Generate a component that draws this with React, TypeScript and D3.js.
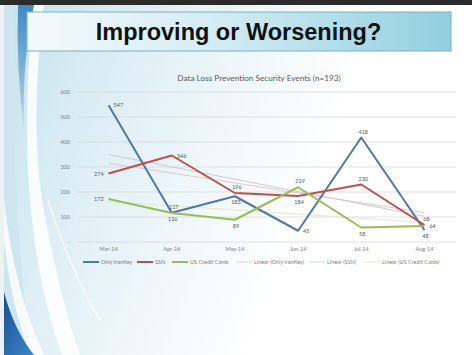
import React from "react";
import * as d3 from "d3";

const months = ["Mar-14", "Apr-14", "May-14", "Jun-14", "Jul-14", "Aug-14"];
const onlyIronKey = [547, 117, 183, 45, 418, 48];
const ssn = [274, 346, 196, 184, 230, 68];
const usCreditCards = [172, 116, 89, 219, 58, 64];
const yTicks = [0, 100, 200, 300, 400, 500, 600];
const seriesNames = ["Only IronKey", "SSN", "US Credit Cards"];
const trendNames = ["Linear (Only IronKey)", "Linear (SSN)", "Linear (US Credit Cards)"];

type Place = "right" | "left" | "above" | "below";
const placeIronKey: Place[] = ["right", "above", "below", "right", "above", "below"];
const placeSSN: Place[] = ["left", "right", "above", "below", "above", "above"];
const placeUS: Place[] = ["left", "below", "below", "above", "below", "right"];

const W = 474, H = 355;
const FONT = "Lato, 'Open Sans', sans-serif";

function regress(vals: number[]) {
  const n = vals.length;
  const xs = vals.map((_, i) => i + 1);
  const mx = d3.mean(xs)!;
  const my = d3.mean(vals)!;
  let sxy = 0, sxx = 0;
  xs.forEach((x, i) => { sxy += (x - mx) * (vals[i] - my); sxx += (x - mx) ** 2; });
  const b = sxy / sxx;
  const a = my - b * mx;
  return { a, b, n };
}

export default function App() {
  const x = d3.scaleBand<string>().domain(months).range([77, 456]);
  const y = d3.scaleLinear().domain([0, 600]).range([242, 92]);
  const cx = (i: number) => x(months[i])! + x.bandwidth() / 2;

  const series = [
    { name: seriesNames[0], vals: onlyIronKey, color: "#4f77aa", place: placeIronKey, trend: "#c3cfdc", tname: trendNames[0] },
    { name: seriesNames[1], vals: ssn, color: "#bf4f4c", place: placeSSN, trend: "#ecc5c4", tname: trendNames[1] },
    { name: seriesNames[2], vals: usCreditCards, color: "#9bbb59", place: placeUS, trend: "#e2ead0", tname: trendNames[2] },
  ];

  const line = d3.line<number>().x((_, i) => cx(i)).y((d) => y(d));

  const labelPos = (p: Place, px: number, py: number) => {
    switch (p) {
      case "right": return { x: px + 5, y: py + 2, anchor: "start" };
      case "left": return { x: px - 5, y: py + 2, anchor: "end" };
      case "above": return { x: px + 2, y: py - 4, anchor: "middle" };
      default: return { x: px + 1, y: py + 8, anchor: "middle" };
    }
  };

  const legendItems = [
    { label: seriesNames[0], color: "#4f77aa", w: 2, x: 83 },
    { label: seriesNames[1], color: "#bf4f4c", w: 2, x: 137 },
    { label: seriesNames[2], color: "#9bbb59", w: 2, x: 172 },
    { label: trendNames[0], color: "#c8ced6", w: 0.8, x: 236 },
    { label: trendNames[1], color: "#d8c8c8", w: 0.8, x: 309 },
    { label: trendNames[2], color: "#e2e6c8", w: 0.8, x: 364 },
  ];

  return (
    <svg width={W} height={H} style={{ position: "absolute", left: 0, top: 0, display: "block" }}>
      <defs>
        <linearGradient id="bg" x1="0" y1="0" x2="1" y2="0.3">
          <stop offset="0" stopColor="#c4e2ee" />
          <stop offset="0.35" stopColor="#e3f1f6" />
          <stop offset="0.75" stopColor="#ffffff" />
          <stop offset="1" stopColor="#ffffff" />
        </linearGradient>
        <linearGradient id="banner" x1="0" y1="0" x2="1" y2="0">
          <stop offset="0" stopColor="#f4fafc" />
          <stop offset="0.45" stopColor="#d3ecf3" />
          <stop offset="1" stopColor="#92cfe0" />
        </linearGradient>
        <linearGradient id="stripe" x1="0" y1="0" x2="0" y2="1">
          <stop offset="0" stopColor="#3f88c4" />
          <stop offset="1" stopColor="#bcdcea" />
        </linearGradient>
        <linearGradient id="corner" x1="0" y1="0" x2="1" y2="1">
          <stop offset="0" stopColor="#1b4f93" />
          <stop offset="1" stopColor="#3d86c6" />
        </linearGradient>
      </defs>
      <rect x={0} y={0} width={W} height={H} fill="url(#bg)" />
      {/* left decorative swooshes */}
      <path d="M0,5 L4,5 L4,355 L0,355 Z" fill="#eef2f4" />
      <path d="M4,5 L14,5 Q8,150 30,355 L4,355 Z" fill="#cfe6f0" />
      <path d="M18,5 L34,5 Q22,60 24,130 Q16,70 18,5 Z" fill="url(#stripe)" />
      <path d="M34,5 L44,5 Q30,120 42,200 Q60,300 80,355 L62,355 Q38,290 30,200 Q22,110 34,5 Z" fill="#ffffff" opacity={0.85} />
      <path d="M4,200 Q14,290 44,355 L30,355 Q10,300 4,240 Z" fill="#ffffff" opacity={0.8} />
      <path d="M4,292 Q14,330 34,355 L4,355 Z" fill="url(#corner)" />
      <path d="M48,200 Q70,270 100,320" fill="none" stroke="#ffffff" strokeWidth={1.2} opacity={0.9} />
      {/* top dark bar */}
      <rect x={0} y={0} width={472} height={5} fill="#2b2b2b" />
      {/* title banner */}
      <rect x={27} y={12} width={424} height={39} fill="url(#banner)" stroke="#7eafc2" strokeWidth={1} />
      <text x={238.5} y={40} textAnchor="middle" fontFamily="'Liberation Sans', Arial, sans-serif" fontWeight="bold" fontSize={23.5} fill="#111">
        Improving or Worsening?
      </text>
      {/* chart title */}
      <text x={259} y={81} textAnchor="middle" fontFamily={FONT} fontSize={8.2} fill="#595959">
        Data Loss Prevention Security Events (n=193)
      </text>
      {/* gridlines & y labels */}
      {yTicks.map((t) => (
        <g key={t}>
          <line x1={77} x2={456} y1={y(t)} y2={y(t)} stroke="#d9d9d9" strokeWidth={0.8} />
          <text x={70} y={y(t) + 2} textAnchor="end" fontFamily={FONT} fontSize={5.5} fill="#7f7f7f">
            {t === 0 ? "-" : t}
          </text>
        </g>
      ))}
      {/* x labels */}
      {months.map((m, i) => (
        <text key={m} x={cx(i)} y={251} textAnchor="middle" fontFamily={FONT} fontSize={5.5} fill="#7f7f7f">
          {m}
        </text>
      ))}
      {/* trend lines */}
      {series.map((s) => {
        const r = regress(s.vals);
        return (
          <line key={s.tname} x1={cx(0)} x2={cx(months.length - 1)} y1={y(r.a + r.b * 1)} y2={y(r.a + r.b * r.n)}
            stroke={s.trend} strokeWidth={1} />
        );
      })}
      {/* data lines */}
      {series.map((s) => (
        <path key={s.name} d={line(s.vals)!} fill="none" stroke={s.color} strokeWidth={2} strokeLinejoin="round" />
      ))}
      {/* data labels */}
      {series.map((s) =>
        s.vals.map((v, i) => {
          const p = labelPos(s.place[i], cx(i), y(v));
          return (
            <text key={s.name + i} x={p.x} y={p.y} textAnchor={p.anchor as any} fontFamily={FONT} fontSize={5.5} fill="#595959">
              {v}
            </text>
          );
        })
      )}
      {/* legend */}
      {legendItems.map((l) => (
        <g key={l.label}>
          <line x1={l.x} x2={l.x + 16} y1={262} y2={262} stroke={l.color} strokeWidth={l.w} />
          <text x={l.x + 18} y={264} fontFamily={FONT} fontSize={5.5} fill="#7f7f7f">{l.label}</text>
        </g>
      ))}
    </svg>
  );
}
